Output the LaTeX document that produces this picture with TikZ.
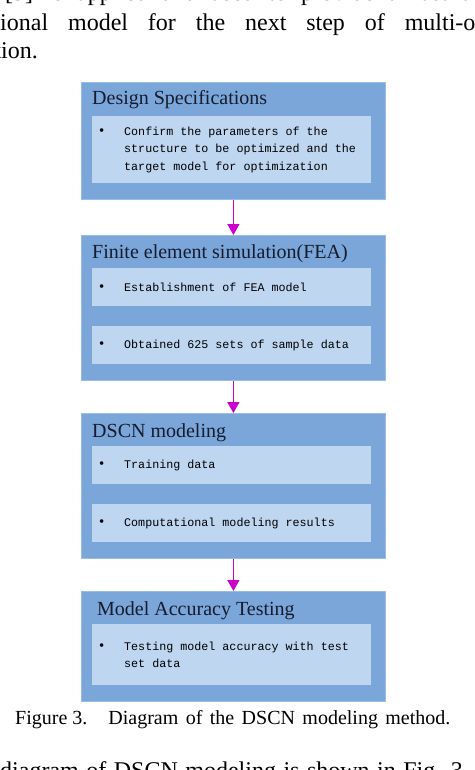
\documentclass[tikz,border=0pt]{standalone}
\usepackage{fontspec}
\setmainfont{Liberation Serif}
\newfontfamily\monofont{Liberation Mono}
\usetikzlibrary{arrows.meta}
\definecolor{outerblue}{RGB}{122,166,217}
\definecolor{outerline}{RGB}{152,190,231}
\definecolor{innerblue}{RGB}{190,214,240}
\definecolor{arrowpink}{RGB}{204,0,204}
\definecolor{titlecol}{RGB}{22,28,45}
\newcommand{\bitem}[1]{\makebox[25pt][l]{\rmfamily\fontsize{15}{15}\selectfont\textbullet}\parbox[t]{238pt}{\raggedright\monofont\spaceskip=0.6em #1}}
\begin{document}
\begin{tikzpicture}[x=1pt, y=-1pt,
    outerbox/.style={draw=outerline, line width=0.8pt, fill=outerblue, minimum width=304pt, inner sep=0pt, anchor=north west},
    innerbox/.style={fill=innerblue, text width=265pt, inner xsep=7pt, inner ysep=0pt, align=left, anchor=north west, font=\fontsize{11.7}{17.5}\selectfont},
    boxtitle/.style={anchor=base west, text=titlecol, inner sep=0pt, font=\fontsize{20}{24}\selectfont},
    para/.style={anchor=base west, inner sep=0pt, font=\fontsize{24}{28}\selectfont},
    flow/.style={arrowpink, line width=1.5pt, -{Triangle[width=12pt,length=11pt]}}]
	\useasboundingbox (0,0) rectangle (474,770);
	% 正文 (上下被截断)
	\begin{scope}
		\clip (0,0) rectangle (474,770);
		\node[para] (line1) at (5,1) {\spaceskip=14pt [9] is applied and used to provide a fast and accurate};
		\node[para] (line2) at (0,31) {\spaceskip=19.9pt ional model for the next step of multi-objective};
		\node[para, anchor=base east] (line3) at (38,59) {optimization.};
		\node[para] (line4) at (0,778) {\spaceskip=7.5pt diagram of DSCN modeling is shown in Fig. 3.};
	\end{scope}
	
	% 外框
	\node[outerbox, minimum height=117pt] (spec) at (81,82) {};
	\node[outerbox, minimum height=145pt] (fea) at (81,235) {};
	\node[outerbox, minimum height=145pt] (dscn) at (81,413) {};
	\node[outerbox, minimum height=110pt] (test) at (81,591) {};
	
	% 标题
	\node[boxtitle] (specT) at (92,105) {Design Specifications};
	\node[boxtitle] (feaT) at (92,258) {Finite element simulation(FEA)};
	\node[boxtitle] (dscnT) at (92,437) {DSCN modeling};
	\node[boxtitle] (testT) at (97,615) {Model Accuracy Testing};
	
	% 内框
	\node[innerbox, minimum height=67pt] (specA) at (92,116) {\bitem{Confirm the parameters of the\\structure to be optimized and the\\target model for optimization}};
	\node[innerbox, minimum height=38pt] (feaA) at (92,268) {\bitem{Establishment of FEA model}};
	\node[innerbox, minimum height=38pt] (feaB) at (92,326) {\bitem{Obtained 625 sets of sample data}};
	\node[innerbox, minimum height=38pt] (dscnA) at (92,446) {\bitem{Training data}};
	\node[innerbox, minimum height=38pt] (dscnB) at (92,504) {\bitem{Computational modeling results}};
	\node[innerbox, minimum height=61pt] (testA) at (92,624) {\bitem{Testing model accuracy with test\\set data}};
	
	% 箭头
	\draw[flow] (spec.south) -- (fea.north);
	\draw[flow] (fea.south) -- (dscn.north);
	\draw[flow] (dscn.south) -- (test.north);
	
	% 图题
	\node[anchor=base west, inner sep=0pt, font=\fontsize{20}{24}\selectfont] (caption) at (15,724) {Figure 3.\hspace{21pt}{\spaceskip=7.4pt Diagram of the DSCN modeling method.}};
\end{tikzpicture}
\end{document}
